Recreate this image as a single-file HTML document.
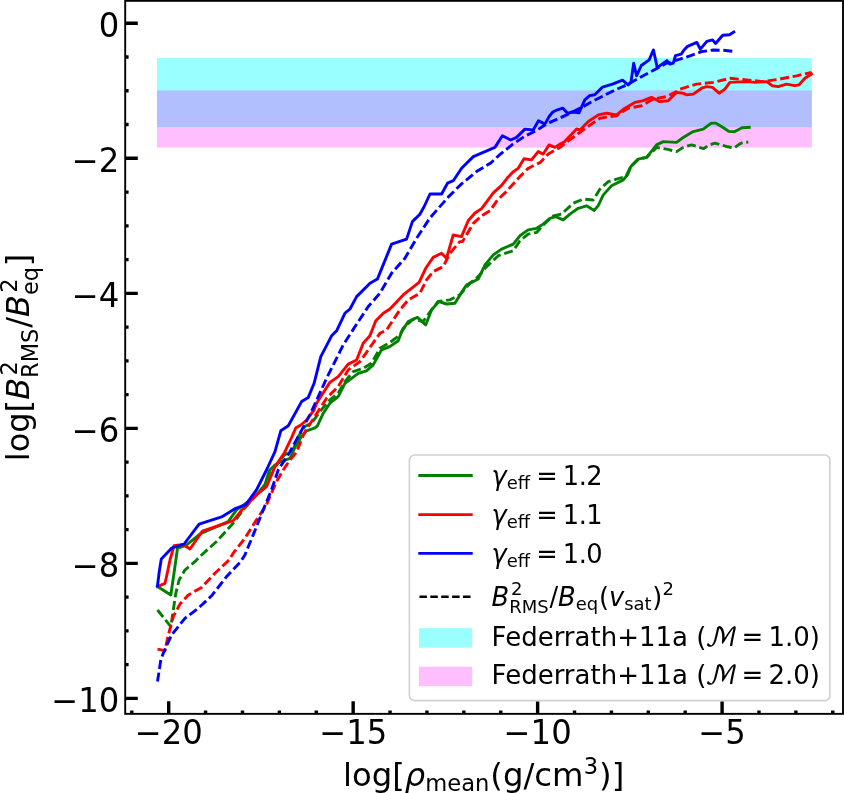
<!DOCTYPE html>
<html lang="en"><head><meta charset="utf-8"><title>Figure</title>
<style>html,body{margin:0;padding:0;background:#fff}body{width:844px;height:793px;overflow:hidden}</style></head>
<body>
<svg width="844" height="793" viewBox="0 0 844 793" style="display:block;font-family:'DejaVu Sans', 'Liberation Sans', sans-serif">
<rect x="0" y="0" width="844" height="793" fill="#ffffff"/>
<rect x="157.0" y="58.1" width="654.9" height="69.0" fill="#00ffff" fill-opacity="0.4"/>
<rect x="157.0" y="90.4" width="654.9" height="57.2" fill="#ff00ff" fill-opacity="0.25"/>
<path d="M157.5 586.6 L170.8 595.0 L174.1 572.5 L177.5 548.2 L185.8 545.7 L199.9 534.0 L228.2 521.6 L236.6 509.9 L245.7 503.3 L256.5 494.9 L264.9 484.9 L269.2 470.8 L275.0 464.9 L280.8 461.6 L290.0 458.3 L294.5 448.3 L300.8 437.5 L306.6 430.8 L315.0 427.9 L317.4 425.8 L323.3 413.2 L329.9 403.2 L338.2 396.6 L344.9 383.3 L358.2 373.3 L366.5 370.8 L373.2 364.9 L381.5 350.0 L389.8 346.6 L398.2 340.8 L401.6 332.0 L408.2 321.5 L417.4 317.4 L425.7 324.9 L431.5 309.9 L439.0 301.5 L446.5 304.0 L454.9 303.2 L461.5 292.4 L466.7 284.9 L478.3 279.0 L485.0 264.9 L493.3 254.9 L501.6 249.1 L513.3 244.1 L519.9 235.8 L528.2 229.9 L536.6 228.3 L543.2 224.1 L549.9 218.3 L555.7 216.6 L563.2 219.9 L569.9 214.1 L578.2 208.3 L586.5 205.8 L594.2 210.4 L598.3 205.5 L603.3 194.9 L611.6 185.7 L623.3 179.9 L627.5 174.9 L630.8 166.6 L638.3 159.1 L646.6 157.4 L656.6 144.9 L663.2 141.6 L676.6 142.4 L683.2 137.5 L693.2 131.6 L703.2 129.1 L711.3 123.1 L715.5 123.1 L721.5 126.6 L729.1 131.4 L734.4 131.8 L742.1 127.8 L749.2 127.3" fill="none" stroke="#008000" stroke-width="2.9" stroke-linejoin="round" stroke-linecap="square"/>
<path d="M157.5 610.0 L170.8 626.6 L173.3 610.0 L175.8 593.3 L179.1 580.0 L184.9 570.0 L194.9 561.7 L199.9 556.5 L216.6 541.5 L233.2 523.2 L243.2 509.9 L256.5 494.9 L264.9 484.9 L269.9 471.6 L276.5 465.0 L284.1 455.4 L293.3 449.0 L298.3 436.5 L304.9 426.5 L311.6 423.2 L319.9 411.6 L329.9 399.9 L338.2 393.2 L344.9 381.6 L353.2 371.6 L363.2 368.3 L371.5 363.3 L379.9 348.3 L389.8 342.5 L400.0 335.0 L403.2 328.2 L413.2 319.0 L423.2 321.5 L431.5 309.9 L438.2 301.5 L449.9 299.9 L459.8 294.9 L470.0 283.2 L478.3 276.5 L486.6 266.6 L498.3 255.7 L513.3 250.7 L519.9 240.7 L528.2 234.1 L536.6 232.4 L544.9 223.3 L553.2 215.8 L561.5 214.1 L573.2 203.3 L583.2 199.1 L593.2 200.0 L600.0 189.1 L608.3 181.6 L616.6 179.1 L625.8 176.6 L630.8 166.6 L638.3 159.1 L646.6 157.4 L656.6 147.4 L666.6 149.1 L676.6 151.6 L683.2 147.4 L691.5 144.9 L703.6 148.6 L709.0 145.0 L714.9 143.2 L727.9 146.8 L734.4 148.0 L739.8 143.8 L743.3 142.4 L748.3 142.1" fill="none" stroke="#008000" stroke-width="2.9" stroke-linejoin="round" stroke-dasharray="9.0 3.7"/>
<path d="M157.5 586.6 L165.0 583.3 L167.5 572.0 L170.0 560.0 L174.1 545.7 L183.3 544.5 L190.0 549.0 L202.4 531.2 L233.2 520.7 L243.2 508.3 L256.5 494.9 L266.5 486.6 L275.0 466.6 L284.1 453.3 L291.6 437.5 L295.8 427.9 L300.8 425.0 L305.8 420.8 L314.1 410.0 L316.6 403.2 L329.9 382.4 L338.2 376.6 L348.2 364.1 L356.6 360.0 L363.2 343.3 L369.9 335.8 L375.8 320.7 L383.3 313.2 L389.9 309.0 L403.2 294.9 L419.1 282.4 L425.7 268.3 L433.2 257.4 L441.5 253.3 L446.5 258.3 L453.2 235.0 L461.5 236.6 L468.3 220.5 L475.0 213.0 L481.6 208.6 L493.3 192.8 L501.6 185.3 L508.2 176.9 L513.0 172.0 L518.1 168.4 L524.0 158.8 L531.5 159.9 L538.2 151.6 L543.2 154.1 L549.0 144.9 L554.8 147.4 L560.0 144.1 L564.2 142.0 L576.6 129.0 L580.0 129.9 L588.3 121.5 L598.3 114.9 L606.6 113.2 L616.6 114.9 L624.9 108.2 L634.9 102.4 L643.2 100.7 L651.5 97.4 L659.9 101.6 L668.2 100.7 L676.5 92.4 L683.2 93.2 L686.7 94.9 L693.3 94.1 L701.6 88.2 L706.6 86.6 L712.5 87.4 L719.1 93.2 L724.9 89.1 L729.9 82.4 L746.6 81.6 L754.9 82.4 L766.6 81.6 L772.4 85.7 L778.2 86.6 L786.5 84.1 L794.9 85.7 L799.0 84.9 L804.9 78.3 L811.5 74.1" fill="none" stroke="#ff0000" stroke-width="2.9" stroke-linejoin="round" stroke-linecap="square"/>
<path d="M157.5 649.1 L165.0 650.7 L167.5 638.2 L173.3 616.6 L180.0 604.1 L188.3 595.0 L201.6 587.5 L214.9 573.3 L229.1 560.0 L233.2 553.2 L244.9 538.2 L256.5 519.9 L266.5 504.9 L276.5 481.6 L283.2 470.0 L290.0 460.0 L296.6 452.0 L304.1 433.2 L311.6 421.5 L326.6 398.2 L338.2 386.6 L348.2 369.9 L359.9 361.6 L368.2 350.0 L379.9 333.3 L386.5 330.0 L399.9 309.9 L408.2 299.9 L419.9 293.2 L426.6 279.9 L433.2 271.6 L443.2 266.6 L449.9 253.3 L459.8 241.6 L462.5 241.6 L473.3 223.3 L481.6 215.8 L490.0 210.8 L497.5 200.0 L505.3 192.6 L512.5 184.8 L519.6 176.9 L528.1 168.4 L534.0 165.2 L540.0 162.7 L548.2 154.1 L560.0 147.4 L566.6 142.0 L583.3 129.9 L599.9 118.2 L616.6 115.7 L628.2 108.2 L641.6 105.7 L653.2 99.1 L666.5 96.6 L676.5 91.6 L680.0 89.1 L696.6 84.1 L713.3 82.4 L729.9 78.3 L746.6 79.9 L763.2 81.6 L779.9 79.1 L796.5 75.8 L811.5 72.4" fill="none" stroke="#ff0000" stroke-width="2.9" stroke-linejoin="round" stroke-dasharray="9.0 3.7"/>
<path d="M157.5 585.8 L159.2 572.0 L161.3 559.0 L171.6 548.2 L184.1 544.0 L199.1 524.1 L222.4 516.6 L235.7 508.3 L245.7 504.9 L256.5 489.9 L266.5 470.0 L275.0 451.6 L280.8 430.8 L288.3 425.7 L301.6 401.6 L308.3 397.4 L314.1 383.3 L320.8 356.6 L331.6 335.8 L336.6 330.8 L345.0 313.2 L350.0 309.0 L356.6 296.6 L370.0 283.2 L377.4 279.1 L391.6 244.1 L406.6 239.1 L412.4 221.6 L419.9 214.2 L424.2 206.5 L430.0 194.0 L441.6 194.0 L447.5 183.2 L453.3 180.7 L461.6 168.2 L473.3 156.6 L494.9 147.4 L502.4 135.8 L510.7 140.0 L516.6 137.4 L524.9 129.1 L533.2 130.0 L538.5 120.8 L544.9 124.1 L549.5 116.0 L552.8 112.0 L557.5 109.8 L562.7 108.1 L567.7 113.4 L572.0 112.0 L579.1 112.7 L584.8 99.9 L589.7 95.6 L594.7 94.7 L602.5 87.1 L612.5 84.2 L622.5 80.2 L628.2 84.9 L631.0 82.0 L633.7 63.3 L636.6 75.8 L641.3 65.5 L649.2 59.9 L653.4 49.9 L657.3 67.7 L666.9 60.6 L669.8 64.1 L673.3 63.1 L675.5 55.6 L681.2 54.2 L683.6 50.6 L687.6 46.3 L696.8 42.4 L700.4 49.2 L706.8 41.4 L712.5 39.9 L715.6 43.5 L722.7 35.2 L729.5 34.7 L733.8 32.1" fill="none" stroke="#0000ff" stroke-width="2.9" stroke-linejoin="round" stroke-linecap="square"/>
<path d="M157.5 681.5 L160.8 659.9 L163.3 653.2 L171.6 634.9 L184.9 618.3 L198.3 608.3 L211.6 595.8 L226.6 576.6 L240.7 561.7 L244.9 554.9 L253.2 534.9 L263.2 509.9 L271.5 489.9 L278.2 470.0 L290.0 451.7 L309.9 414.9 L326.6 378.3 L343.2 345.0 L358.2 321.7 L368.3 306.5 L379.9 293.2 L391.6 273.2 L404.9 258.3 L416.6 238.3 L429.9 218.0 L448.4 196.9 L461.3 184.1 L476.9 171.3 L491.1 162.7 L499.7 154.7 L512.5 144.4 L525.3 135.9 L536.7 130.5 L544.9 125.0 L550.0 122.4 L566.6 114.9 L583.3 106.6 L591.2 102.0 L601.1 97.0 L615.3 89.9 L626.7 84.9 L638.1 78.5 L650.0 72.1 L666.5 63.3 L680.0 59.1 L690.0 55.8 L701.6 51.6 L713.3 50.0 L723.3 50.3 L733.3 51.3" fill="none" stroke="#0000ff" stroke-width="2.9" stroke-linejoin="round" stroke-dasharray="9.0 3.7"/>
<path d="M131.81 713.9 v-3.4 M168.70 713.9 v-12.6 M205.59 713.9 v-3.4 M242.49 713.9 v-3.4 M279.38 713.9 v-3.4 M316.27 713.9 v-3.4 M353.16 713.9 v-12.6 M390.06 713.9 v-3.4 M426.95 713.9 v-3.4 M463.84 713.9 v-3.4 M500.74 713.9 v-3.4 M537.63 713.9 v-12.6 M574.52 713.9 v-3.4 M611.42 713.9 v-3.4 M648.31 713.9 v-3.4 M685.20 713.9 v-3.4 M722.10 713.9 v-12.6 M758.99 713.9 v-3.4 M795.88 713.9 v-3.4 M832.77 713.9 v-3.4 M125.2 698.40 h12.6 M125.2 664.64 h3.4 M125.2 630.89 h3.4 M125.2 597.13 h3.4 M125.2 563.38 h12.6 M125.2 529.62 h3.4 M125.2 495.87 h3.4 M125.2 462.12 h3.4 M125.2 428.36 h12.6 M125.2 394.61 h3.4 M125.2 360.85 h3.4 M125.2 327.10 h3.4 M125.2 293.34 h12.6 M125.2 259.59 h3.4 M125.2 225.83 h3.4 M125.2 192.08 h3.4 M125.2 158.32 h12.6 M125.2 124.57 h3.4 M125.2 90.81 h3.4 M125.2 57.06 h3.4 M125.2 23.30 h12.6" fill="none" stroke="#000" stroke-width="3.4"/>
<rect x="125.2" y="0.85" width="717.8" height="713.0" fill="none" stroke="#000" stroke-width="1.9" stroke-linejoin="miter"/>
<text transform="translate(168.7 744.3) scale(1 1.025)" font-size="32.3" text-anchor="middle">−20</text>
<text transform="translate(353.2 744.3) scale(1 1.025)" font-size="32.3" text-anchor="middle">−15</text>
<text transform="translate(537.6 744.3) scale(1 1.025)" font-size="32.3" text-anchor="middle">−10</text>
<text transform="translate(722.1 744.3) scale(1 1.025)" font-size="32.3" text-anchor="middle">−5</text>
<text transform="translate(119.3 36.6) scale(1 1.025)" font-size="32.3" text-anchor="end">0</text>
<text transform="translate(119.3 171.6) scale(1 1.025)" font-size="32.3" text-anchor="end">−2</text>
<text transform="translate(119.3 306.6) scale(1 1.025)" font-size="32.3" text-anchor="end">−4</text>
<text transform="translate(119.3 441.7) scale(1 1.025)" font-size="32.3" text-anchor="end">−6</text>
<text transform="translate(119.3 576.7) scale(1 1.025)" font-size="32.3" text-anchor="end">−8</text>
<text transform="translate(119.3 711.7) scale(1 1.025)" font-size="32.3" text-anchor="end">−10</text>
<text transform="translate(343.0 786.0) scale(1 0.985)"><tspan x="0.00" y="0.00" font-size="32.30">log[</tspan><tspan x="61.84" y="0.00" font-size="32.30" font-style="oblique">ρ</tspan><tspan x="82.34" y="5.30" font-size="22.61">mean</tspan><tspan x="147.35" y="0.00" font-size="32.30">(g/cm</tspan><tspan x="240.87" y="-12.36" font-size="22.61">3</tspan><tspan x="256.13" y="0.00" font-size="32.30">)]</tspan></text>
<text transform="translate(29.3 461.2) rotate(-90) scale(0.992 1.0)"><tspan x="0.00" y="0.00" font-size="32.30">log[</tspan><tspan x="61.84" y="0.00" font-size="32.30" font-style="oblique">B</tspan><tspan x="86.27" y="-12.36" font-size="22.61">2</tspan><tspan x="84.00" y="8.83" font-size="22.61">RMS</tspan><tspan x="134.45" y="0.00" font-size="32.30">/</tspan><tspan x="145.33" y="0.00" font-size="32.30" font-style="oblique">B</tspan><tspan x="169.76" y="-12.36" font-size="22.61">2</tspan><tspan x="167.49" y="8.83" font-size="22.61">eq</tspan><tspan x="196.64" y="0.00" font-size="32.30">]</tspan></text>
<rect x="409.4" y="455.0" width="420.5" height="245.6" rx="5.2" ry="5.2" fill="#ffffff" fill-opacity="0.8" stroke="#d0d0d0" stroke-width="1.6"/>
<path d="M418.3 475.5 H472.7" stroke="#008000" stroke-width="2.9" fill="none"/>
<path d="M418.3 514.6 H472.7" stroke="#ff0000" stroke-width="2.9" fill="none"/>
<path d="M418.3 553.4 H472.7" stroke="#0000ff" stroke-width="2.9" fill="none"/>
<path d="M419.4 596.8 H472.0" stroke="#000" stroke-width="2.5" fill="none" stroke-dasharray="7.5 3.4"/>
<rect x="418.9" y="628.2" width="53.3" height="19.5" fill="#00ffff" fill-opacity="0.4"/>
<rect x="418.9" y="666.7" width="53.3" height="19.5" fill="#ff00ff" fill-opacity="0.25"/>
<text transform="translate(491.6 484.6) scale(1 1.0)"><tspan x="0.00" y="0.00" font-size="25.70" font-style="oblique">γ</tspan><tspan x="15.21" y="4.39" font-size="17.99">eff</tspan><tspan x="44.68" y="0.00" font-size="25.70">=</tspan><tspan x="71.22" y="0.00" font-size="25.70" letter-spacing="-0.5">1.2</tspan></text>
<text transform="translate(491.6 523.7) scale(1 1.0)"><tspan x="0.00" y="0.00" font-size="25.70" font-style="oblique">γ</tspan><tspan x="15.21" y="4.39" font-size="17.99">eff</tspan><tspan x="44.68" y="0.00" font-size="25.70">=</tspan><tspan x="71.22" y="0.00" font-size="25.70" letter-spacing="-0.5">1.1</tspan></text>
<text transform="translate(491.6 562.7) scale(1 1.0)"><tspan x="0.00" y="0.00" font-size="25.70" font-style="oblique">γ</tspan><tspan x="15.21" y="4.39" font-size="17.99">eff</tspan><tspan x="44.68" y="0.00" font-size="25.70">=</tspan><tspan x="71.22" y="0.00" font-size="25.70" letter-spacing="-0.5">1.0</tspan></text>
<text transform="translate(491.6 605.6) scale(1 1.0)"><tspan x="0.00" y="0.00" font-size="25.70" font-style="oblique">B</tspan><tspan x="19.51" y="-10.23" font-size="17.99">2</tspan><tspan x="17.63" y="7.31" font-size="17.99">RMS</tspan><tspan x="57.80" y="0.00" font-size="25.70">/</tspan><tspan x="66.46" y="0.00" font-size="25.70" font-style="oblique">B</tspan><tspan x="84.09" y="4.39" font-size="17.99">eq</tspan><tspan x="107.31" y="0.00" font-size="25.70">(</tspan><tspan x="117.34" y="0.00" font-size="25.70" font-style="oblique">v</tspan><tspan x="132.55" y="4.39" font-size="17.99">sat</tspan><tspan x="160.73" y="0.00" font-size="25.70">)</tspan><tspan x="171.01" y="-10.23" font-size="17.99">2</tspan></text>
<text transform="translate(491.6 645.8) scale(1 1.0)"><tspan x="0.00" y="0.00" font-size="26.00">Federrath+11a (</tspan><tspan x="213.20" y="0.00" font-size="26.00" font-family="'DejaVu Math TeX Gyre', 'DejaVu Sans', sans-serif">ℳ</tspan><tspan x="250.02" y="0.00" font-size="26.00">=</tspan><tspan x="276.85" y="0.00" font-size="26.00">1.0)</tspan></text>
<text transform="translate(491.6 684.3) scale(1 1.0)"><tspan x="0.00" y="0.00" font-size="26.00">Federrath+11a (</tspan><tspan x="213.20" y="0.00" font-size="26.00" font-family="'DejaVu Math TeX Gyre', 'DejaVu Sans', sans-serif">ℳ</tspan><tspan x="250.02" y="0.00" font-size="26.00">=</tspan><tspan x="276.85" y="0.00" font-size="26.00">2.0)</tspan></text>
</svg>
</body></html>
